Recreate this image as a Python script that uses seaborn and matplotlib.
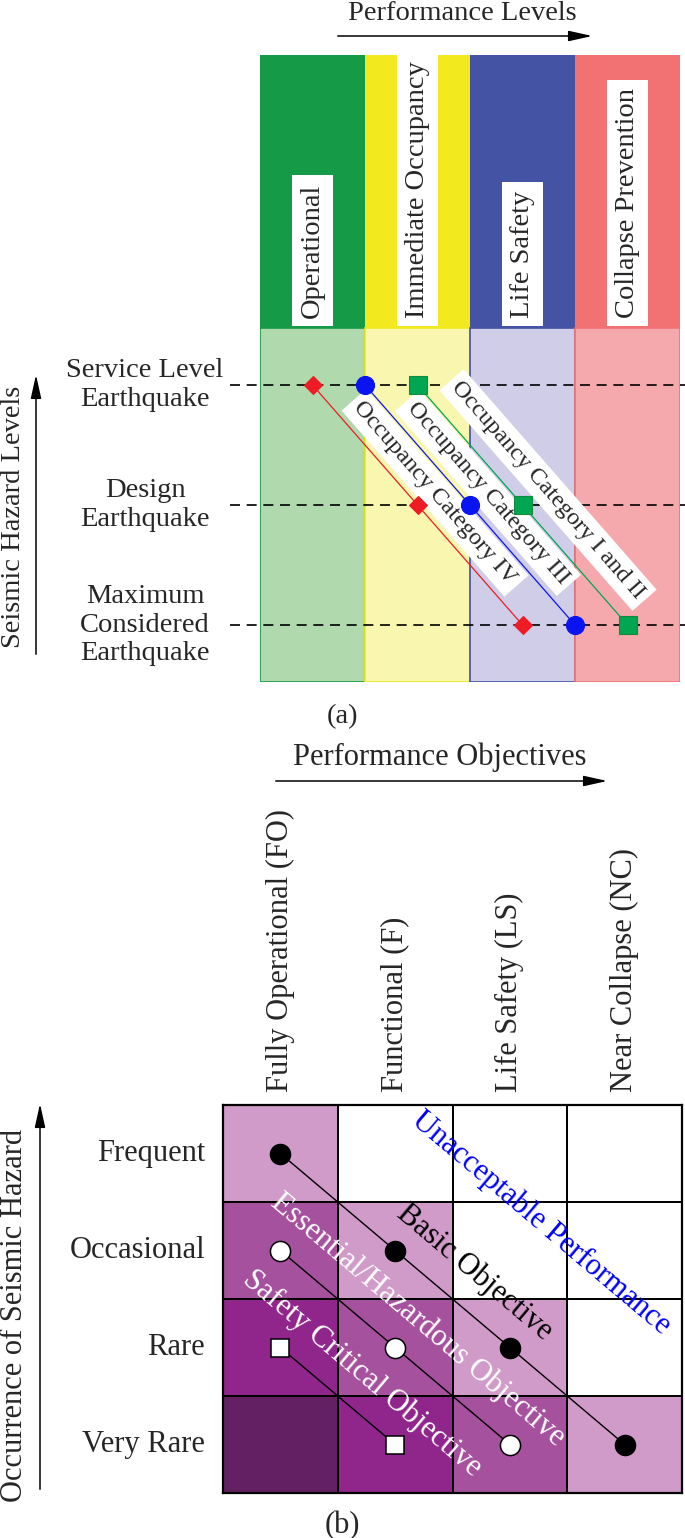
import numpy as np
import pandas as pd
import matplotlib
matplotlib.use("Agg")
import matplotlib.pyplot as plt
from matplotlib.colors import ListedColormap
from matplotlib.patches import FancyArrowPatch
import seaborn as sns

# ---- panel (a) data
perf_levels = ["Operational", "Immediate Occupancy", "Life Safety", "Collapse Prevention"]
hazard_levels = ["Service Level\nEarthquake", "Design\nEarthquake", "Maximum\nConsidered\nEarthquake"]
dark_cols = ["#159B48", "#F2EA1F", "#4553A5", "#F27274"]
light_cols = ["#B1D9AE", "#F9F6B0", "#CFCDE7", "#F6A9AD"]
occ_names = ["Occupancy Category IV", "Occupancy Category III", "Occupancy Category I and II"]
occ_iv = [0.5, 1.5, 2.5]
occ_iii = [1.0, 2.0, 3.0]
occ_i_ii = [1.5, 2.5, 3.5]

# ---- panel (b) data
objectives = ["Fully Operational (FO)", "Functional (F)", "Life Safety (LS)", "Near Collapse (NC)"]
occurrence = ["Frequent", "Occasional", "Rare", "Very Rare"]
cell_level = [[1, 0, 0, 0],
              [2, 1, 0, 0],
              [3, 2, 1, 0],
              [4, 3, 2, 1]]
basic_col = [0, 1, 2, 3]
basic_row = [0, 1, 2, 3]
essential_col = [0, 1, 2]
essential_row = [1, 2, 3]
safety_col = [0, 1]
safety_row = [2, 3]
purple_cols = ["#FFFFFF", "#D09BC8", "#A6519E", "#90268B", "#632062"]

sns.set_style("white")
plt.rcParams["font.family"] = ["Liberation Serif", "DejaVu Serif"]

W, H = 685, 1538
fig = plt.figure(figsize=(W / 100, H / 100), dpi=100)


def fx(px):
    return px / W


def fy(py):
    return 1 - py / H


def arrow(p0, p1):
    a = FancyArrowPatch((fx(p0[0]), fy(p0[1])), (fx(p1[0]), fy(p1[1])),
                        transform=fig.transFigure,
                        arrowstyle="-|>,head_length=0.9,head_width=0.2",
                        mutation_scale=16, lw=1.1, color="black")
    fig.add_artist(a)


# ================= panel (a)
axa = fig.add_axes([fx(260), fy(682), (680 - 260) / W, (682 - 55) / H])
axa.set_xlim(0, 4)
axa.set_ylim(2.475, -2.75)
axa.axis("off")

xpos = np.arange(len(perf_levels)) + 0.5
split = -0.475
axa.bar(xpos, split - (-2.75), bottom=-2.75, width=1, color=dark_cols, lw=0, zorder=1)
axa.bar(xpos, 2.475 - split, bottom=split, width=1, color=light_cols,
        edgecolor=dark_cols, lw=1.2, zorder=1)

for x, name in zip(xpos, perf_levels):
    axa.text(x, -0.56, name, rotation=90, ha="center", va="bottom", fontsize=20.5,
             bbox=dict(facecolor="white", edgecolor="none", pad=6), zorder=3)

lv = np.arange(len(hazard_levels))
axa.hlines(lv, -0.286, 4.05, colors="black", linestyles=(0, (6, 4)), lw=1.2,
           clip_on=False, zorder=2)
for y, name in zip(lv, hazard_levels):
    axa.text(-1.095, y, name, ha="center", va="center", fontsize=20.5,
             linespacing=1.2, clip_on=False)

p = axa.transData.transform([[0.5, 0], [2.5, 2]])
ang_a = np.degrees(np.arctan2(p[1, 1] - p[0, 1], p[1, 0] - p[0, 0]))

series = [(occ_iv, "#EE1C25", "D", 9.5, "#EE1C25"),
          (occ_iii, "#0A14F0", "o", 13, "#0A14F0"),
          (occ_i_ii, "#00A651", "s", 12.5, "#138A3E")]
for xs, c, m, ms, ec in series:
    axa.plot(xs, lv, color=c, lw=0.9, marker=m, ms=ms, mfc=c, mec=ec, mew=0.8,
             clip_on=False, zorder=6)

# label offsets from each line (along y = level)
lab_off = [(0.267, 0.9), (0.271, 0.9), (0.368, 0.875)]
for xs, name, (dx, yy) in zip([occ_iv, occ_iii, occ_i_ii], occ_names, lab_off):
    x_on_line = np.interp(yy, lv, xs)
    axa.text(x_on_line + dx, yy, name, rotation=ang_a, rotation_mode="anchor",
             ha="center", va="center", fontsize=17.5,
             bbox=dict(facecolor="white", edgecolor="none", pad=4), zorder=4)

fig.text(fx(462), fy(14), "Performance Levels", ha="center", va="center", fontsize=20.5)
arrow((335, 36), (595, 36))
fig.text(fx(14), fy(517), "Seismic Hazard Levels", rotation=90, ha="center",
         va="center", fontsize=20.5)
arrow((36, 657), (36, 372))
fig.text(fx(343), fy(717), "(a)", ha="center", va="center", fontsize=20.5)

# ================= panel (b)
axb = fig.add_axes([fx(223), fy(1493), (682 - 223) / W, (1493 - 1105) / H])
df = pd.DataFrame(cell_level, index=occurrence, columns=objectives)
sns.heatmap(df, ax=axb, cmap=ListedColormap(purple_cols), vmin=-0.5, vmax=4.5,
            cbar=False, linewidths=1.4, linecolor="black")
axb.set_xlabel("")
axb.set_ylabel("")
axb.xaxis.tick_top()
axb.set_xticklabels(objectives, rotation=90, fontsize=22)
axb.set_yticklabels(occurrence, rotation=0, fontsize=22)
axb.tick_params(axis="x", length=0, pad=9)
axb.tick_params(axis="y", length=0, pad=13)
for s in axb.spines.values():
    s.set_visible(True)
    s.set_linewidth(1.6)
    s.set_color("black")

bx = np.array(basic_col) + 0.5
by = np.array(basic_row) + 0.5
axb.plot(bx, by, color="black", lw=1, marker="o", ms=14.5, mfc="black", mec="black",
         clip_on=False, zorder=5)
axb.plot(np.array(essential_col) + 0.5, np.array(essential_row) + 0.5, color="black",
         lw=1, marker="o", ms=14.5, mfc="white", mec="black", mew=1.1, zorder=5)
axb.plot(np.array(safety_col) + 0.5, np.array(safety_row) + 0.5, color="black",
         lw=1, marker="s", ms=13, mfc="white", mec="black", mew=1.1, zorder=5)

p = axb.transData.transform([[0.5, 0.5], [1.5, 1.5]])
ang_b = np.degrees(np.arctan2(p[1, 1] - p[0, 1], p[1, 0] - p[0, 0]))

axb.text(2.77, 1.22, "Unacceptable Performance", rotation=ang_b, rotation_mode="anchor",
         ha="center", va="center", fontsize=22, color="#0000FF", zorder=6)
axb.text(2.19, 1.72, "Basic Objective", rotation=ang_b, rotation_mode="anchor",
         ha="center", va="center", fontsize=22, color="black", zorder=6)
axb.text(1.70, 2.22, "Essential/Hazardous Objective", rotation=ang_b,
         rotation_mode="anchor", ha="center", va="center", fontsize=22,
         color="white", zorder=6)
axb.text(1.21, 2.77, "Safety Critical Objective", rotation=ang_b,
         rotation_mode="anchor", ha="center", va="center", fontsize=22,
         color="white", zorder=6)

fig.text(fx(440), fy(757), "Performance Objectives", ha="center", va="center", fontsize=22)
arrow((273, 781), (610, 781))
fig.text(fx(15), fy(1315), "Occurrence of Seismic Hazard", rotation=90, ha="center",
         va="center", fontsize=22)
arrow((40, 1492), (40, 1101))
fig.text(fx(342), fy(1526), "(b)", ha="center", va="center", fontsize=22)

fig.savefig("out.png", dpi=100)
